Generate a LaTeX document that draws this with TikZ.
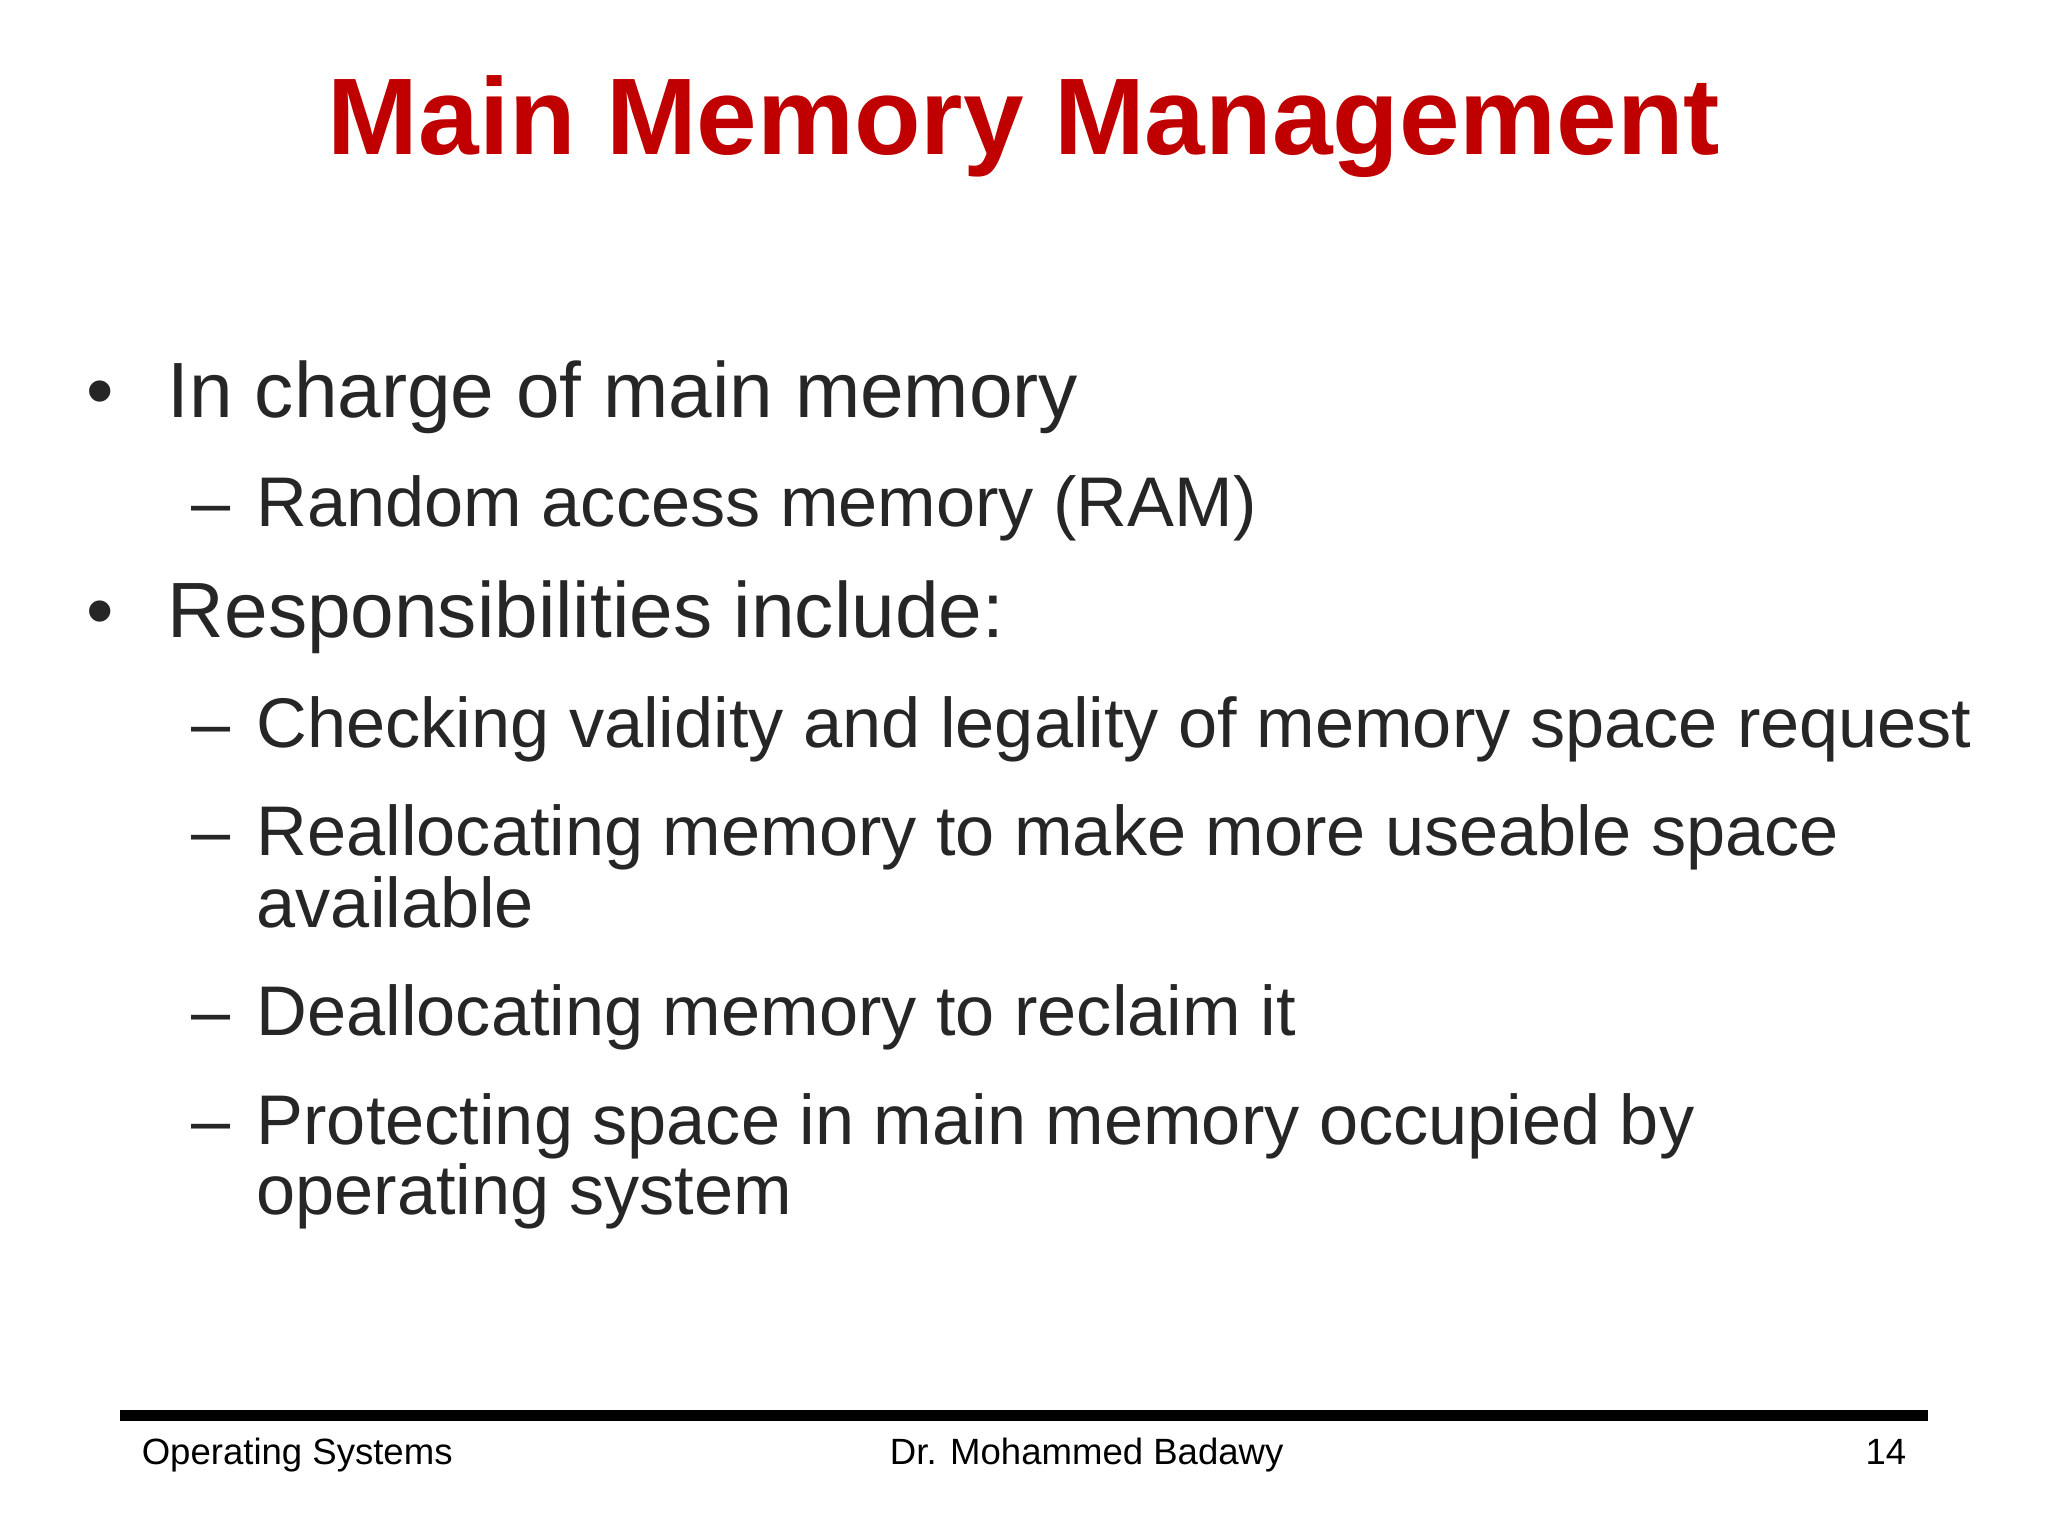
\documentclass[tikz,border=0pt]{standalone}
\usepackage{fontspec}
\setmainfont{Liberation Sans}
\definecolor{tred}{HTML}{C00000}
\definecolor{txt}{HTML}{262626}
\begin{document}
\begin{tikzpicture}[x=0.01306cm,y=-0.01306cm,
  bl/.style={anchor=base west,inner sep=0,text=txt,font=\fontsize{22.3}{26}\selectfont},
  sb/.style={anchor=base west,inner sep=0,text=txt,font=\fontsize{20}{24}\selectfont},
  ft/.style={anchor=base,inner sep=0,text=black,font=\fontsize{10.4}{12}\selectfont}]
\useasboundingbox[fill=white] (0,0) rectangle (1568,1176);
\node[anchor=base,inner sep=0,text=tred,font=\fontsize{31}{36}\bfseries\selectfont] (title) at (784,118) {Main Memory Management};
\node[bl] (b1d) at (66,320) {•};
\node[bl] (b1) at (128,320) {In charge of main memory};
\node[sb] (s1d) at (146,403) {–};
\node[sb] (s1) at (196,403) {Random access memory (RAM)};
\node[bl] (b2d) at (66,488) {•};
\node[bl] (b2) at (128,488) {Responsibilities include:};
\node[sb] (s2d) at (146,572) {–};
\node[sb] (s2) at (196,572) {Checking validity and legality of memory space request};
\node[sb] (s3d) at (146,655) {–};
\node[sb] (s3) at (196,655) {Reallocating memory to make more useable space};
\node[sb] (s3b) at (196,710) {available};
\node[sb] (s4d) at (146,793) {–};
\node[sb] (s4) at (196,793) {Deallocating memory to reclaim it};
\node[sb] (s5d) at (146,876) {–};
\node[sb] (s5) at (196,876) {Protecting space in main memory occupied by};
\node[sb] (s5b) at (196,930) {operating system};
\coordinate (la) at (92,1084);
\coordinate (lb) at (1476,1084);
\draw[line width=3.2pt,black] (la) -- (lb);
\node[ft,anchor=base west] (f1) at (108,1121) {Operating Systems};
\node[ft] (f2) at (832,1121) {Dr. Mohammed Badawy};
\node[ft,anchor=base east] (f3) at (1460,1121) {14};
\end{tikzpicture}
\end{document}
